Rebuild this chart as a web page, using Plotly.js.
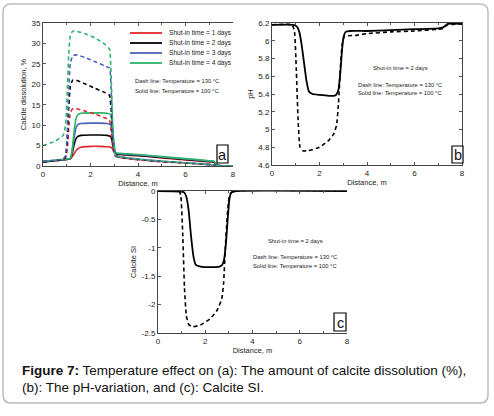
<!DOCTYPE html>
<html>
<head>
<meta charset="utf-8">
<script src="https://cdn.plot.ly/plotly-3.0.1.min.js"></script>
<style>
html,body{margin:0;padding:0;background:#fff;}
#chart{width:494px;height:416px;}
</style>
</head>
<body>
<div id="chart"></div>
<script>
// ---------- DATA ----------
// Panel (a): calcite dissolution, %
const aSolidX = [0, 0.5, 1.0, 1.15, 1.22, 1.3, 1.38, 1.46, 1.6, 2.0, 2.4, 2.7, 2.85, 2.92, 2.98, 3.05, 3.2, 4, 5, 6, 7, 7.2, 7.35, 7.5, 8];
const aSolid1 = [1.0, 1.3, 1.6, 1.8, 2.2, 2.9, 3.7, 4.2, 4.6, 4.8, 4.8, 4.7, 4.6, 4.3, 3.6, 3.0, 2.8, 2.5, 2.0, 1.5, 1.0, 0.9, 0.2, 0.05, 0.05];
const aSolid2 = [1.0, 1.3, 1.6, 1.8, 2.8, 5.0, 6.6, 7.2, 7.5, 7.6, 7.6, 7.5, 7.2, 6.0, 4.0, 3.1, 2.9, 2.6, 2.1, 1.6, 1.1, 1.0, 0.2, 0.05, 0.05];
const aSolid3 = [1.1, 1.35, 1.65, 1.85, 3.2, 6.5, 9.2, 10.1, 10.4, 10.5, 10.5, 10.4, 10.1, 8.0, 5.0, 3.2, 3.0, 2.7, 2.2, 1.7, 1.2, 1.1, 0.2, 0.05, 0.05];
const aSolid4 = [1.2, 1.4, 1.7, 1.9, 3.6, 8.0, 11.4, 12.5, 12.9, 13.0, 13.0, 12.9, 12.6, 10.0, 6.0, 3.3, 3.1, 2.8, 2.3, 1.8, 1.3, 1.2, 0.2, 0.05, 0.05];
const aDashX = [0, 0.5, 0.85, 0.95, 1.02, 1.08, 1.15, 1.25, 1.4, 1.8, 2.2, 2.6, 2.8, 2.88, 2.95, 3.05, 3.2, 4, 5, 6, 7, 7.2, 7.4, 8];
const aDash1 = [1.0, 1.3, 1.6, 2.0, 4, 9, 13, 14, 14, 13.4, 12.7, 11.8, 11.2, 8, 4, 2.4, 2.1, 1.5, 1.0, 0.7, 0.3, 0.25, 0.05, 0.05];
const aDash2 = [1.0, 1.3, 1.6, 2.3, 6, 14, 19.5, 21, 21, 20, 19, 18, 17.3, 13, 6, 2.5, 2.2, 1.6, 1.1, 0.75, 0.35, 0.3, 0.05, 0.05];
const aDash3 = [1.1, 1.4, 1.7, 2.5, 8, 18, 25, 27, 27.2, 26.5, 25.5, 24.5, 24, 17, 7, 2.6, 2.3, 1.7, 1.2, 0.8, 0.4, 0.3, 0.05, 0.05];
const aDash4 = [5.0, 6.0, 7.5, 10, 18, 27, 32, 33, 33, 32.3, 31.3, 29.8, 28.6, 20, 8, 2.6, 2.3, 1.7, 1.2, 0.8, 0.4, 0.3, 0.05, 0.05];
const legendLabels = ["Shut-in time = 1 days", "Shut-in time = 2 days", "Shut-in time = 3 days", "Shut-in time = 4 days"];

// Panel (b): pH
const bSolidX = [0, 0.9, 1.05, 1.15, 1.25, 1.35, 1.45, 1.55, 1.7, 2.0, 2.4, 2.6, 2.7, 2.8, 2.88, 2.95, 3.02, 3.1, 3.3, 4, 5, 6, 7, 7.2, 7.4, 8];
const bSolidY = [6.18, 6.18, 6.16, 6.1, 5.95, 5.75, 5.55, 5.43, 5.40, 5.39, 5.38, 5.38, 5.39, 5.45, 5.65, 5.9, 6.05, 6.1, 6.11, 6.11, 6.12, 6.13, 6.14, 6.15, 6.19, 6.19];
const bDashX = [0, 0.85, 0.95, 1.02, 1.1, 1.18, 1.3, 1.5, 2.0, 2.4, 2.6, 2.72, 2.8, 2.88, 2.95, 3.05, 3.5, 4, 5, 6, 7, 7.2, 7.4, 8];
const bDashY = [6.18, 6.18, 6.1, 5.7, 5.1, 4.8, 4.76, 4.76, 4.8, 4.88, 4.95, 5.05, 5.3, 5.7, 5.95, 6.05, 6.06, 6.08, 6.1, 6.11, 6.13, 6.14, 6.18, 6.19];

// Panel (c): Calcite SI
const cSolidX = [0, 1.1, 1.2, 1.3, 1.4, 1.5, 1.6, 1.8, 2.2, 2.6, 2.72, 2.8, 2.88, 2.95, 3.02, 3.1, 3.3, 8];
const cSolidY = [0, -0.02, -0.1, -0.35, -0.8, -1.15, -1.3, -1.33, -1.34, -1.33, -1.3, -1.2, -0.9, -0.5, -0.15, -0.03, 0, 0];
const cDashX = [0, 0.9, 0.97, 1.05, 1.12, 1.2, 1.3, 1.45, 1.8, 2.2, 2.5, 2.7, 2.78, 2.85, 2.92, 2.98, 3.05, 3.2, 8];
const cDashY = [0, 0, -0.1, -0.8, -1.7, -2.2, -2.35, -2.39, -2.36, -2.25, -2.1, -1.9, -1.6, -1.0, -0.5, -0.2, -0.05, 0, 0];
const cTickVals = [0, -0.5, -1, -1.5, -2, -2.5];
const cTickText = ["0", "-0.5", "-1", "-1.5", "-2", "-2.5"];

// ---------- STYLE ----------
const W = 494, H = 416;
const FONT = "Liberation Sans, Arial, sans-serif";
const colors = ["#e0282c", "#000000", "#4c62b6", "#2db46a"];
const DASH = "4px,3px";
const px = v => v / W;
const py = v => 1 - v / H;

const traces = [];
const aSolids = [aSolid1, aSolid2, aSolid3, aSolid4];
const aDashes = [aDash1, aDash2, aDash3, aDash4];
for (let i = 0; i < 4; i++) {
  traces.push({x: aSolidX, y: aSolids[i], xaxis: "x", yaxis: "y", mode: "lines",
    line: {color: colors[i], width: 1.6, shape: "spline", smoothing: 0.4}, showlegend: false, hoverinfo: "skip"});
}
for (let i = 0; i < 4; i++) {
  traces.push({x: aDashX, y: aDashes[i], xaxis: "x", yaxis: "y", mode: "lines",
    line: {color: colors[i], width: 1.6, dash: DASH, shape: "spline", smoothing: 0.4}, showlegend: false, hoverinfo: "skip"});
}
traces.push({x: bSolidX, y: bSolidY, xaxis: "x2", yaxis: "y2", mode: "lines",
  line: {color: "#000", width: 1.8, shape: "spline", smoothing: 0.4}, showlegend: false});
traces.push({x: bDashX, y: bDashY, xaxis: "x2", yaxis: "y2", mode: "lines",
  line: {color: "#000", width: 1.6, dash: DASH, shape: "spline", smoothing: 0.4}, showlegend: false});
traces.push({x: cSolidX, y: cSolidY, xaxis: "x3", yaxis: "y3", mode: "lines",
  line: {color: "#000", width: 1.8, shape: "spline", smoothing: 0.4}, showlegend: false});
traces.push({x: cDashX, y: cDashY, xaxis: "x3", yaxis: "y3", mode: "lines",
  line: {color: "#000", width: 1.6, dash: DASH, shape: "spline", smoothing: 0.4}, showlegend: false});

const tickFont = {family: FONT, size: 8, color: "#222"};
const titleFont = {family: FONT, size: 7.5, color: "#222"};
function xAx(dom, anchor, mirror) {
  return {domain: dom, anchor: anchor, range: [0, 8], tickvals: [0, 2, 4, 6, 8],
    ticks: "inside", ticklen: 3, tickcolor: "#555", showline: true, linecolor: "#444", linewidth: 1,
    mirror: mirror, showgrid: false, zeroline: false, tickfont: tickFont,
    minor: {ticks: "inside", ticklen: 2, dtick: 1, tickcolor: "#555"},
    title: {text: "Distance, m", font: titleFont, standoff: 1}, automargin: false};
}
function yAx(dom, anchor, range, extra) {
  return Object.assign({domain: dom, anchor: anchor, range: range,
    ticks: "inside", ticklen: 3, tickcolor: "#555", showline: true, linecolor: "#444", linewidth: 1,
    showgrid: false, zeroline: false, tickfont: tickFont, automargin: false}, extra);
}

const annFont = {family: FONT, size: 5.8, color: "#222"};
const annotations = [];
// panel text
annotations.push({xref: "paper", yref: "paper", x: px(133), y: py(81), xanchor: "left", yanchor: "middle",
  text: "Dash line: Temperature = 130 °C", showarrow: false, font: annFont});
annotations.push({xref: "paper", yref: "paper", x: px(133), y: py(91), xanchor: "left", yanchor: "middle",
  text: "Solid line: Temperature = 100 °C", showarrow: false, font: annFont});
const bTexts = ["Shut-in time = 2 days", "Dash line: Temperature = 130 °C", "Solid line: Temperature = 100 °C"];
const bY = [68, 85, 93];
bTexts.forEach((t, i) => annotations.push({xref: "paper", yref: "paper", x: px(400), y: py(bY[i]),
  xanchor: "center", yanchor: "middle", text: t, showarrow: false, font: annFont}));
const cY = [241, 257, 266];
bTexts.forEach((t, i) => annotations.push({xref: "paper", yref: "paper", x: px(295), y: py(cY[i]),
  xanchor: "center", yanchor: "middle", text: t, showarrow: false, font: annFont}));

// legend of panel a
const shapes = [];
legendLabels.forEach((t, i) => {
  const yy = 33 + i * 10;
  shapes.push({type: "line", xref: "paper", yref: "paper", x0: px(130), x1: px(162), y0: py(yy), y1: py(yy),
    line: {color: colors[i], width: 1.8}});
  annotations.push({xref: "paper", yref: "paper", x: px(167), y: py(yy), xanchor: "left", yanchor: "middle",
    text: t, showarrow: false, font: {family: FONT, size: 6.6, color: "#222"}});
});

// panel letter boxes
const letters = [["a", 217, 145, 228, 163], ["b", 452, 146, 463, 163], ["c", 334, 313, 346, 331]];
letters.forEach(l => {
  shapes.push({type: "rect", xref: "paper", yref: "paper", x0: px(l[1]), x1: px(l[3]), y0: py(l[4]), y1: py(l[2]),
    line: {color: "#000", width: 1.2}, fillcolor: "#fff"});
  annotations.push({xref: "paper", yref: "paper", x: px((l[1] + l[3]) / 2), y: py((l[2] + l[4]) / 2 + 0.5),
    xanchor: "center", yanchor: "middle", text: l[0], showarrow: false,
    font: {family: FONT, size: 14.5, color: "#111"}});
});

// outer rounded frame
const L = 3, T = 4, R = 488, B = 403, r = 8;
const path = `M ${px(L + r)} ${py(T)} L ${px(R - r)} ${py(T)} Q ${px(R)} ${py(T)} ${px(R)} ${py(T + r)} ` +
  `L ${px(R)} ${py(B - r)} Q ${px(R)} ${py(B)} ${px(R - r)} ${py(B)} L ${px(L + r)} ${py(B)} ` +
  `Q ${px(L)} ${py(B)} ${px(L)} ${py(B - r)} L ${px(L)} ${py(T + r)} Q ${px(L)} ${py(T)} ${px(L + r)} ${py(T)} Z`;
shapes.push({type: "path", xref: "paper", yref: "paper", path: path, line: {color: "#bdbdbd", width: 1.5}, layer: "below"});

// caption
annotations.push({xref: "paper", yref: "paper", x: px(20), y: py(370), xanchor: "left", yanchor: "middle",
  text: "<b>Figure 7:</b> Temperature effect on (a): The amount of calcite dissolution (%),",
  showarrow: false, font: {family: FONT, size: 13.5, color: "#111"}});
annotations.push({xref: "paper", yref: "paper", x: px(20), y: py(387), xanchor: "left", yanchor: "middle",
  text: "(b): The pH-variation, and (c): Calcite SI.",
  showarrow: false, font: {family: FONT, size: 13.5, color: "#111"}});

const layout = {
  width: W, height: H, margin: {l: 0, r: 0, t: 0, b: 0},
  paper_bgcolor: "#fff", plot_bgcolor: "rgba(0,0,0,0)", showlegend: false,
  font: {family: FONT},
  xaxis: xAx([px(43), px(233)], "y", "ticks"),
  yaxis: yAx([py(166), py(23)], "x", [0, 35], {dtick: 5,
    title: {text: "Calcite dissolution, %", font: titleFont, standoff: 3}}),
  xaxis2: xAx([px(272), px(462)], "y2", "ticks"),
  yaxis2: yAx([py(165), py(23)], "x2", [4.6, 6.2], {dtick: 0.2, mirror: "ticks",
    title: {text: "pH", font: titleFont, standoff: 3}}),
  xaxis3: xAx([px(158), px(347)], "y3", "ticks"),
  yaxis3: yAx([py(333), py(191)], "x3", [-2.5, 0], {tickvals: cTickVals, ticktext: cTickText,
    title: {text: "Calcite SI", font: titleFont, standoff: 3}}),
  shapes: shapes, annotations: annotations
};
Plotly.newPlot("chart", traces, layout, {staticPlot: true, displayModeBar: false});
</script>
</body>
</html>
